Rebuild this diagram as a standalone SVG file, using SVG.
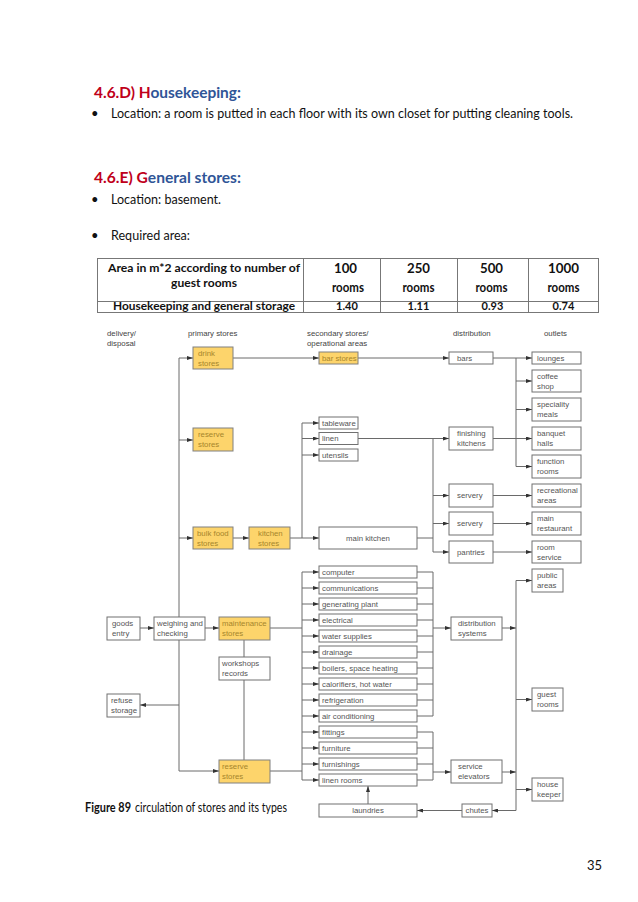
<svg xmlns="http://www.w3.org/2000/svg" width="638" height="902" viewBox="0 0 638 902">
<defs>
<marker id="ah" viewBox="0 0 6 4" refX="6" refY="2" markerWidth="6" markerHeight="4" markerUnits="userSpaceOnUse" orient="auto">
<path d="M0,0 L6,2 L0,4 z" fill="#333"/>
</marker>
<style>
.h{font-family:Lato,"Open Sans",sans-serif;font-weight:bold;font-size:16px}
.red{fill:#c0001a}
.blue{fill:#2f5597}
.p{font-family:Lato,"Open Sans",sans-serif;font-size:13px;fill:#111}
.tb{font-family:Lato,"Open Sans",sans-serif;font-weight:bold;font-size:11px;fill:#111;text-anchor:middle}
.tb2{font-family:Lato,"Open Sans",sans-serif;font-weight:bold;font-size:12.5px;fill:#111;text-anchor:middle}
.grid{fill:none;stroke:#777;stroke-width:1}
.box{fill:#fff;stroke:#707070;stroke-width:1}
.ybox{fill:#fdd46b;stroke:#808080;stroke-width:1}
.t{font-family:"Liberation Sans",Arial,sans-serif;font-size:7.8px;fill:#555}
.yt{fill:#a6852c}
.hd{font-family:"Liberation Sans",Arial,sans-serif;font-size:7.8px;fill:#444}
.c{text-anchor:middle}
.conn path{fill:none;stroke:#6a6a6a;stroke-width:1}
.ar{marker-end:url(#ah)}
</style>
</defs>
<rect width="638" height="902" fill="#fff"/>

<g id="text-header">
<text class="h" x="94" y="98" textLength="147" lengthAdjust="spacingAndGlyphs"><tspan class="red">4.6.D) H</tspan><tspan class="blue">ousekeeping:</tspan></text>
<text class="p" x="91" y="118">•</text>
<text class="p" x="111" y="118" textLength="462" lengthAdjust="spacingAndGlyphs">Location: a room is putted in each floor with its own closet for putting cleaning tools.</text>
<text class="h" x="94" y="183" textLength="147" lengthAdjust="spacingAndGlyphs"><tspan class="red">4.6.E) G</tspan><tspan class="blue">eneral stores:</tspan></text>
<text class="p" x="91" y="204">•</text>
<text class="p" x="111" y="204" textLength="110" lengthAdjust="spacingAndGlyphs">Location: basement.</text>
<text class="p" x="91" y="240">•</text>
<text class="p" x="111" y="240" textLength="79" lengthAdjust="spacingAndGlyphs">Required area:</text>
</g>

<g id="table">
<rect class="grid" x="97.5" y="258.5" width="501" height="54"/>
<path class="grid" d="M97.5,301.5 H598.5 M303.5,258.5 V312.5 M380.5,258.5 V312.5 M457.5,258.5 V312.5 M528.5,258.5 V312.5"/>
<text class="tb" x="204" y="272" textLength="192" lengthAdjust="spacingAndGlyphs">Area in m*2 according to number of</text>
<text class="tb" x="204" y="287" textLength="66" lengthAdjust="spacingAndGlyphs">guest rooms</text>
<text class="tb2" x="345.5" y="273" textLength="23" lengthAdjust="spacingAndGlyphs">100</text>
<text class="tb2" x="348" y="292" textLength="32" lengthAdjust="spacingAndGlyphs">rooms</text>
<text class="tb2" x="418.5" y="273" textLength="23" lengthAdjust="spacingAndGlyphs">250</text>
<text class="tb2" x="418.5" y="292" textLength="32" lengthAdjust="spacingAndGlyphs">rooms</text>
<text class="tb2" x="491.5" y="273" textLength="23" lengthAdjust="spacingAndGlyphs">500</text>
<text class="tb2" x="491.5" y="292" textLength="32" lengthAdjust="spacingAndGlyphs">rooms</text>
<text class="tb2" x="563.5" y="273" textLength="31" lengthAdjust="spacingAndGlyphs">1000</text>
<text class="tb2" x="563.5" y="292" textLength="32" lengthAdjust="spacingAndGlyphs">rooms</text>
<text class="tb" x="204" y="310" textLength="182" lengthAdjust="spacingAndGlyphs">Housekeeping and general storage</text>
<text class="tb" x="347" y="310">1.40</text>
<text class="tb" x="418.5" y="310">1.11</text>
<text class="tb" x="492.5" y="310">0.93</text>
<text class="tb" x="563.5" y="310">0.74</text>
</g>

<g id="column-headers">
<text class="hd" x="107" y="336">delivery/</text>
<text class="hd" x="107" y="346">disposal</text>
<text class="hd" x="188" y="336">primary stores</text>
<text class="hd" x="307" y="336">secondary stores/</text>
<text class="hd" x="307" y="346">operational areas</text>
<text class="hd" x="453" y="336">distribution</text>
<text class="hd" x="544" y="336">outlets</text>
</g>

<g id="connectors" class="conn">
<path d="M179,358 V771"/>
<path class="ar" d="M179,358 H193"/>
<path class="ar" d="M179,440 H193"/>
<path class="ar" d="M179,538 H193"/>
<path class="ar" d="M179,771 H219"/>
<path class="ar" d="M179,705 H140"/>
<path class="ar" d="M140,628 H154"/>
<path class="ar" d="M205,628 H219"/>
<path class="ar" d="M233,358 H319"/>
<path class="ar" d="M233,538 H249"/>
<path d="M290,538 H302 M302,423 V538"/>
<path class="ar" d="M302,423 H319"/>
<path class="ar" d="M302,438.5 H319"/>
<path class="ar" d="M302,455 H319"/>
<path class="ar" d="M302,538 H319"/>
<path d="M270,628 H302 M302,572 V780 M270,771 H302"/>
<path d="M244,640 V657 M244,680 V760"/>
<path class="ar" d="M302,572 H319"/>
<path class="ar" d="M302,588 H319"/>
<path class="ar" d="M302,604 H319"/>
<path class="ar" d="M302,620 H319"/>
<path class="ar" d="M302,636 H319"/>
<path class="ar" d="M302,652 H319"/>
<path class="ar" d="M302,668 H319"/>
<path class="ar" d="M302,684 H319"/>
<path class="ar" d="M302,700 H319"/>
<path class="ar" d="M302,716 H319"/>
<path class="ar" d="M302,732 H319"/>
<path class="ar" d="M302,748 H319"/>
<path class="ar" d="M302,764 H319"/>
<path class="ar" d="M302,780 H319"/>
<path class="ar" d="M358,358 H449"/>
<path class="ar" d="M358,438.5 H449"/>
<path d="M417,538 H433 M433,438.5 V552"/>
<path class="ar" d="M433,495.5 H449"/>
<path class="ar" d="M433,523.5 H449"/>
<path class="ar" d="M433,552 H449"/>
<path d="M493,358 H516 M516,358 V466.5"/>
<path class="ar" d="M516,358 H532"/>
<path class="ar" d="M516,381 H532"/>
<path class="ar" d="M516,409.5 H532"/>
<path class="ar" d="M493,438.5 H532"/>
<path class="ar" d="M516,466.5 H532"/>
<path class="ar" d="M493,495.5 H532"/>
<path class="ar" d="M493,523.5 H532"/>
<path class="ar" d="M493,552 H532"/>
<path d="M417,572 H433 M417,588 H433 M417,604 H433 M417,620 H433 M417,636 H433 M417,652 H433 M417,668 H433 M417,684 H433 M417,700 H433 M417,716 H433 M433,572 V716"/>
<path class="ar" d="M433,628 H451"/>
<path class="ar" d="M502,628 H516"/>
<path d="M417,732 H433 M417,748 H433 M417,764 H433 M417,780 H433 M433,732 V780"/>
<path class="ar" d="M433,772 H451"/>
<path class="ar" d="M502,772 H516"/>
<path d="M516,580.5 V810.5"/>
<path class="ar" d="M516,580.5 H532"/>
<path class="ar" d="M516,699.5 H532"/>
<path class="ar" d="M516,789.5 H532"/>
<path class="ar" d="M516,810.5 H492"/>
<path class="ar" d="M462,810.5 H417"/>
<path class="ar" d="M368,804 V786"/>
</g>

<g id="drink-stores"><rect class="ybox" x="193" y="347" width="40" height="22"/><text class="t yt" x="198" y="355.5">drink</text><text class="t yt" x="198" y="365.5">stores</text></g>
<g id="reserve-stores-1"><rect class="ybox" x="193" y="428" width="40" height="23"/><text class="t yt" x="198" y="437">reserve</text><text class="t yt" x="198" y="447">stores</text></g>
<g id="bulk-food-stores"><rect class="ybox" x="193" y="527" width="40" height="22"/><text class="t yt" x="197" y="535.5">bulk food</text><text class="t yt" x="197" y="545.5">stores</text></g>
<g id="kitchen-stores"><rect class="ybox" x="249" y="527" width="41" height="22"/><text class="t yt" x="258" y="535.5">kitchen</text><text class="t yt" x="258" y="545.5">stores</text></g>
<g id="goods-entry"><rect class="box" x="107" y="617" width="33" height="23"/><text class="t" x="112" y="626">goods</text><text class="t" x="112" y="636">entry</text></g>
<g id="weighing-and-checking"><rect class="box" x="154" y="617" width="51" height="23"/><text class="t" x="157" y="626">weighing and</text><text class="t" x="157" y="636">checking</text></g>
<g id="maintenance-stores"><rect class="ybox" x="219" y="617" width="51" height="23"/><text class="t yt" x="222" y="626">maintenance</text><text class="t yt" x="222" y="636">stores</text></g>
<g id="workshops-records"><rect class="box" x="219" y="657" width="51" height="23"/><text class="t" x="222" y="666">workshops</text><text class="t" x="222" y="676">records</text></g>
<g id="refuse-storage"><rect class="box" x="107" y="694" width="33" height="23"/><text class="t" x="111" y="703">refuse</text><text class="t" x="111" y="713">storage</text></g>
<g id="reserve-stores-2"><rect class="ybox" x="219" y="760" width="51" height="23"/><text class="t yt" x="222" y="769">reserve</text><text class="t yt" x="222" y="779">stores</text></g>

<g id="bar-stores"><rect class="ybox" x="319" y="352" width="39" height="12"/><text class="t yt" x="322" y="360.8">bar stores</text></g>
<g id="tableware"><rect class="box" x="319" y="417" width="39" height="12"/><text class="t" x="322" y="425.8">tableware</text></g>
<g id="linen"><rect class="box" x="319" y="432.5" width="39" height="12"/><text class="t" x="322" y="441.3">linen</text></g>
<g id="utensils"><rect class="box" x="319" y="449" width="39" height="12"/><text class="t" x="322" y="457.8">utensils</text></g>
<g id="main-kitchen"><rect class="box" x="319" y="527" width="98" height="22"/><text class="t c" x="368" y="540.8">main kitchen</text></g>

<g id="computer"><rect class="box" x="319" y="566" width="98" height="12"/><text class="t" x="322" y="574.8">computer</text></g>
<g id="communications"><rect class="box" x="319" y="582" width="98" height="12"/><text class="t" x="322" y="590.8">communications</text></g>
<g id="generating-plant"><rect class="box" x="319" y="598" width="98" height="12"/><text class="t" x="322" y="606.8">generating plant</text></g>
<g id="electrical"><rect class="box" x="319" y="614" width="98" height="12"/><text class="t" x="322" y="622.8">electrical</text></g>
<g id="water-supplies"><rect class="box" x="319" y="630" width="98" height="12"/><text class="t" x="322" y="638.8">water supplies</text></g>
<g id="drainage"><rect class="box" x="319" y="646" width="98" height="12"/><text class="t" x="322" y="654.8">drainage</text></g>
<g id="boilers"><rect class="box" x="319" y="662" width="98" height="12"/><text class="t" x="322" y="670.8">boilers, space heating</text></g>
<g id="calorifiers"><rect class="box" x="319" y="678" width="98" height="12"/><text class="t" x="322" y="686.8">calorifiers, hot water</text></g>
<g id="refrigeration"><rect class="box" x="319" y="694" width="98" height="12"/><text class="t" x="322" y="702.8">refrigeration</text></g>
<g id="air-conditioning"><rect class="box" x="319" y="710" width="98" height="12"/><text class="t" x="322" y="718.8">air conditioning</text></g>
<g id="fittings"><rect class="box" x="319" y="726" width="98" height="12"/><text class="t" x="322" y="734.8">fittings</text></g>
<g id="furniture"><rect class="box" x="319" y="742" width="98" height="12"/><text class="t" x="322" y="750.8">furniture</text></g>
<g id="furnishings"><rect class="box" x="319" y="758" width="98" height="12"/><text class="t" x="322" y="766.8">furnishings</text></g>
<g id="linen-rooms"><rect class="box" x="319" y="774" width="98" height="12"/><text class="t" x="322" y="782.8">linen rooms</text></g>
<g id="laundries"><rect class="box" x="319" y="804" width="98" height="13"/><text class="t c" x="368" y="813.3">laundries</text></g>

<g id="bars"><rect class="box" x="449" y="352" width="44" height="12"/><text class="t" x="457" y="360.8">bars</text></g>
<g id="finishing-kitchens"><rect class="box" x="449" y="427" width="44" height="23"/><text class="t" x="457" y="436">finishing</text><text class="t" x="457" y="446">kitchens</text></g>
<g id="servery-1"><rect class="box" x="449" y="484" width="44" height="23"/><text class="t" x="457" y="498.3">servery</text></g>
<g id="servery-2"><rect class="box" x="449" y="512" width="44" height="23"/><text class="t" x="457" y="526.3">servery</text></g>
<g id="pantries"><rect class="box" x="449" y="541" width="44" height="22"/><text class="t" x="457" y="554.8">pantries</text></g>
<g id="distribution-systems"><rect class="box" x="451" y="617" width="51" height="23"/><text class="t" x="458" y="626">distribution</text><text class="t" x="458" y="636">systems</text></g>
<g id="service-elevators"><rect class="box" x="451" y="760" width="51" height="23"/><text class="t" x="458" y="769">service</text><text class="t" x="458" y="779">elevators</text></g>
<g id="chutes"><rect class="box" x="462" y="804" width="30" height="13"/><text class="t c" x="477" y="813.3">chutes</text></g>

<g id="lounges"><rect class="box" x="532" y="352" width="49" height="12"/><text class="t" x="537" y="360.8">lounges</text></g>
<g id="coffee-shop"><rect class="box" x="532" y="370" width="49" height="22"/><text class="t" x="537" y="378.5">coffee</text><text class="t" x="537" y="388.5">shop</text></g>
<g id="speciality-meals"><rect class="box" x="532" y="398" width="49" height="23"/><text class="t" x="537" y="407">speciality</text><text class="t" x="537" y="417">meals</text></g>
<g id="banquet-halls"><rect class="box" x="532" y="427" width="49" height="23"/><text class="t" x="537" y="436">banquet</text><text class="t" x="537" y="446">halls</text></g>
<g id="function-rooms"><rect class="box" x="532" y="455" width="49" height="23"/><text class="t" x="537" y="464">function</text><text class="t" x="537" y="474">rooms</text></g>
<g id="recreational-areas"><rect class="box" x="532" y="484" width="49" height="23"/><text class="t" x="537" y="493">recreational</text><text class="t" x="537" y="503">areas</text></g>
<g id="main-restaurant"><rect class="box" x="532" y="512" width="49" height="23"/><text class="t" x="537" y="521">main</text><text class="t" x="537" y="531">restaurant</text></g>
<g id="room-service"><rect class="box" x="532" y="541" width="49" height="22"/><text class="t" x="537" y="549.5">room</text><text class="t" x="537" y="559.5">service</text></g>
<g id="public-areas"><rect class="box" x="532" y="569" width="31" height="23"/><text class="t" x="537" y="578">public</text><text class="t" x="537" y="588">areas</text></g>
<g id="guest-rooms"><rect class="box" x="532" y="688" width="31" height="23"/><text class="t" x="537" y="697">guest</text><text class="t" x="537" y="707">rooms</text></g>
<g id="house-keeper"><rect class="box" x="532" y="778" width="31" height="23"/><text class="t" x="537" y="787">house</text><text class="t" x="537" y="797">keeper</text></g>

<g id="caption">
<text class="p" x="85" y="812" font-weight="bold" textLength="46" lengthAdjust="spacingAndGlyphs">Figure 89</text>
<text class="p" x="135" y="812" textLength="152" lengthAdjust="spacingAndGlyphs">circulation of stores and its types</text>
<text class="p" x="587" y="870" font-size="11">35</text>
</g>
</svg>
